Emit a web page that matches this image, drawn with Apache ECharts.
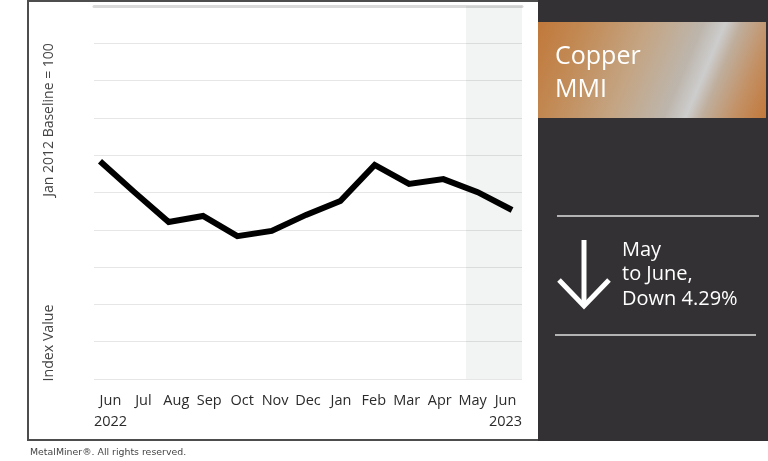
<!DOCTYPE html>
<html>
<head>
<meta charset="utf-8">
<script src="https://cdn.jsdelivr.net/npm/echarts@6/dist/echarts.min.js"></script>
<style>
html,body{margin:0;padding:0;background:#fff;}
#c{width:768px;height:461px;}
</style>
</head>
<body>
<div id="c"></div>
<script>
const months = ['Jun','Jul','Aug','Sep','Oct','Nov','Dec','Jan','Feb','Mar','Apr','May','Jun'];
const years = ['2022','','','','','','','','','','','','2023'];
const copperMMI = [118.4,110.1,102.1,103.7,98.3,99.7,104.0,107.7,117.4,112.3,113.6,110.1,105.3];
const yMin = 60, yMax = 160, yStep = 10;
const highlightFrom = 10.66;

const chart = echarts.init(document.getElementById('c'));
const font = '"Open Sans", sans-serif';
chart.setOption({
  backgroundColor: '#fff',
  animation: false,
  grid: {left: 94, right: 246, top: 6, bottom: 82},
  xAxis: [
    {
      type: 'category', data: months, boundaryGap: true, position: 'bottom',
      axisLine: {show: false}, axisTick: {show: false}, splitLine: {show: false},
      axisLabel: {
        interval: 0, margin: 11, color: '#2b2b2b', fontSize: 14.5, fontFamily: font, lineHeight: 21,
        formatter: (v, i) => years[i] ? v + '\n' + years[i] : v
      }
    },
    {
      type: 'value', min: -0.175, max: 12.29, position: 'top',
      axisLine: {show: true, lineStyle: {color: '#d9d9d9', width: 3}},
      axisTick: {show: false}, axisLabel: {show: false}, splitLine: {show: false}
    }
  ],
  yAxis: {
    type: 'value', min: yMin, max: yMax, interval: yStep,
    axisLine: {show: false}, axisTick: {show: false}, axisLabel: {show: false},
    splitLine: {lineStyle: {color: '#e6e6e6', width: 1}}
  },
  series: [{
    type: 'line', xAxisIndex: 1,
    data: copperMMI.map((v, i) => [i, v]),
    showSymbol: false, symbol: 'none',
    lineStyle: {color: '#000', width: 6, join: 'miter'},
    markArea: {
      silent: true,
      itemStyle: {color: 'rgba(60,70,70,0.065)'},
      data: [[{xAxis: highlightFrom}, {xAxis: 12.29}]]
    }
  }],
  graphic: [
    {type: 'rect', z: 100, shape: {x: 28, y: 1, width: 520, height: 439},
     style: {fill: null, stroke: '#4d4d4d', lineWidth: 2}},
    {type: 'rect', z: 101, shape: {x: 538, y: 0, width: 230, height: 441},
     style: {fill: '#333133'}},
    {type: 'rect', z: 102, shape: {x: 538, y: 22, width: 228, height: 96},
     style: {fill: new echarts.graphic.LinearGradient(0, 0, 1, 1, [
       {offset: 0, color: '#c1783a'},
       {offset: 0.18, color: '#c28a55'},
       {offset: 0.42, color: '#c4a584'},
       {offset: 0.62, color: '#bdb6ad'},
       {offset: 0.70, color: '#cdcdcd'},
       {offset: 0.76, color: '#bfae9c'},
       {offset: 0.88, color: '#c39064'},
       {offset: 1, color: '#c2783a'}
     ])}},
    {type: 'text', z: 103, left: 555, top: 44,
     style: {text: 'Copper', fill: '#fff', font: '25px "Open Sans", sans-serif'}},
    {type: 'text', z: 103, left: 555, top: 77,
     style: {text: 'MMI', fill: '#fff', font: '25px "Open Sans", sans-serif'}},
    {type: 'line', z: 103, shape: {x1: 557, y1: 216, x2: 759, y2: 216},
     style: {stroke: '#b3b3b3', lineWidth: 2}},
    {type: 'line', z: 103, shape: {x1: 555, y1: 335, x2: 756, y2: 335},
     style: {stroke: '#b3b3b3', lineWidth: 2}},
    {type: 'line', z: 103, shape: {x1: 584, y1: 240, x2: 584, y2: 304},
     style: {stroke: '#fff', lineWidth: 5}},
    {type: 'polyline', z: 103, shape: {points: [[559, 280], [584, 306], [609, 280]]},
     style: {stroke: '#fff', lineWidth: 5, fill: null, lineJoin: 'miter'}},
    {type: 'text', z: 103, left: 622, top: 238,
     style: {text: 'May\nto June,\nDown 4.29%', fill: '#fff', font: '20px "Open Sans", sans-serif', lineHeight: 24.5}},
    {type: 'text', z: 103, rotation: Math.PI / 2, x: 42, y: 120,
     style: {text: 'Jan 2012 Baseline = 100', fill: '#444', font: '14px "Open Sans", sans-serif', align: 'center', verticalAlign: 'top'}},
    {type: 'text', z: 103, rotation: Math.PI / 2, x: 42, y: 343,
     style: {text: 'Index Value', fill: '#444', font: '14.2px "Open Sans", sans-serif', align: 'center', verticalAlign: 'top'}},
    {type: 'text', z: 103, left: 30, top: 448.5,
     style: {text: 'MetalMiner\u00ae. All rights reserved.', fill: '#444', font: '9.4px "DejaVu Sans", Verdana, sans-serif'}}
  ]
});
</script>
</body>
</html>
